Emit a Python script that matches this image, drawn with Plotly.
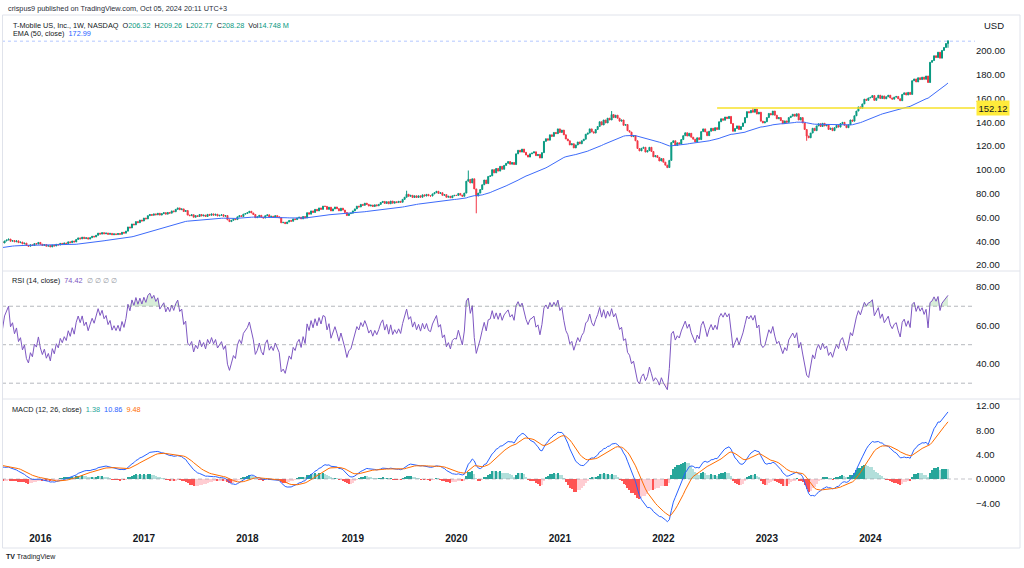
import numpy as np
import pandas as pd
import plotly.graph_objects as go

# ---------------------------------------------------------------------------
# DATA  (T-Mobile US, weekly closes in USD, one value per week starting Monday)
# ---------------------------------------------------------------------------
# weeks before the visible window: only used to warm up EMA / RSI / MACD
closes_pre = [30.5, 29.8, 29.5, 29.0, 29.2,
              29.0, 28.5, 28.8, 29.5,
              29.0, 28.0, 27.5, 27.0,
              26.5, 27.0, 27.5, 27.2, 27.0,
              29.5, 30.5, 31.0, 30.0,
              30.5, 32.0, 32.5, 32.0,
              31.5, 31.0, 31.8, 32.5, 32.0,
              33.0, 33.5, 34.5, 34.0,
              35.5, 36.5, 37.5, 38.0,
              38.5, 39.5, 39.0, 38.5, 38.8,
              39.5, 40.5, 41.0, 40.5,
              40.0, 40.5, 39.5, 38.5]
closes_2015 = [40.2, 41.0, 41.8, 40.0, 40.6, 39.5, 40.3, 38.8, 39.3,
               37.8, 38.4, 36.5, 35.8, 37.0, 36.4, 38.0, 37.6, 39.0]
closes_2016 = [37.5, 36.5, 37.2, 35.8, 36.4, 35.2, 36.8, 36.0, 37.4, 36.8, 38.2, 37.6, 38.5,
               38.0, 39.5, 38.8, 40.2, 39.4, 41.5, 42.8, 42.0, 43.4, 42.2, 42.9, 41.8, 43.0,
               44.2, 43.6, 45.0, 46.8, 46.0, 47.2, 46.2, 46.9, 45.8, 46.6, 45.4, 46.2, 45.6,
               46.5, 45.8, 47.5, 46.8, 48.5, 52.0, 51.2, 54.5, 53.8, 56.5, 55.6, 57.8, 57.0]
closes_2017 = [59.5, 58.8, 61.5, 62.5, 61.8, 63.0, 62.2, 63.5, 62.0, 63.2, 64.0, 62.8, 64.2,
               63.6, 65.5, 64.8, 66.8, 68.0, 66.5, 67.2, 65.0, 65.8, 62.0, 61.5, 62.3, 60.2,
               61.5, 60.8, 62.5, 61.2, 62.0, 60.8, 62.6, 61.8, 63.0, 61.9, 62.7, 61.2, 61.8,
               62.3, 61.0, 61.6, 58.0, 56.5, 57.6, 58.8, 58.2, 60.5, 61.5, 60.8, 62.8, 63.3]
closes_2018 = [64.0, 65.2, 63.8, 62.5, 59.8, 60.5, 61.8, 60.2, 59.5, 61.5, 62.2, 60.3, 61.0,
               60.2, 61.5, 60.6, 59.8, 55.5, 55.9, 54.8, 56.2, 57.5, 56.8, 58.8, 58.2, 59.6,
               60.2, 58.8, 60.8, 59.6, 64.0, 62.8, 65.5, 64.2, 66.8, 65.5, 68.0, 66.8, 69.5,
               69.3, 66.8, 68.6, 65.5, 67.2, 68.8, 67.4, 65.6, 67.8, 66.2, 64.2, 61.6, 63.2, 63.6]
closes_2019 = [65.5, 67.2, 69.5, 68.8, 71.0, 70.2, 72.0, 71.0, 69.6, 70.4, 69.2, 70.6, 69.8,
               71.0, 72.6, 73.5, 71.8, 73.2, 71.5, 73.8, 72.0, 73.2, 72.5, 73.6, 72.8, 75.2,
               77.0, 79.5, 77.8, 78.6, 76.8, 78.2, 76.8, 78.2, 77.0, 79.0, 78.0, 79.4, 78.2,
               78.0, 79.8, 80.8, 82.0, 80.2, 80.8, 78.6, 79.2, 77.0, 77.8, 76.6, 78.2, 78.6]
closes_2020 = [78.5, 80.2, 78.8, 77.8, 80.5, 90.5, 92.0, 89.0, 92.5, 84.0, 78.0, 80.5, 83.5,
               87.5, 91.5, 88.5, 94.5, 95.0, 100.2, 97.5, 101.2, 99.0, 103.0, 100.5, 103.8, 105.5,
               107.0, 104.8, 106.2, 104.5, 113.5, 116.5, 115.0, 117.5, 114.8, 112.5, 110.8, 113.5, 114.2,
               115.2, 112.0, 113.0, 110.0, 114.5, 124.0, 126.2, 125.0, 129.5, 128.2, 131.5, 130.5, 134.5]
closes_2021 = [131.5, 133.5, 129.5, 126.0, 124.5, 121.0, 122.0, 118.5, 121.0, 123.5, 122.0, 124.5, 125.8,
               130.0, 131.0, 134.5, 132.0, 131.0, 134.0, 136.5, 140.5, 137.8, 142.0, 139.5, 143.5, 142.0,
               146.5, 144.0, 146.0, 143.5, 141.0, 142.0, 137.5, 138.2, 133.0, 131.8, 128.0, 128.8, 124.5,
               118.0, 116.0, 118.2, 119.0, 115.0, 116.2, 119.0, 115.5, 111.0, 112.0, 110.5, 107.5, 109.5]
closes_2022 = [106.5, 104.0, 102.0, 108.0, 123.0, 124.5, 120.5, 122.8, 121.8, 125.5, 128.8, 131.2, 128.5,
               130.8, 127.5, 125.8, 123.5, 127.0, 125.5, 132.2, 134.5, 132.0, 128.8, 132.5, 135.0, 133.0,
               135.5, 134.0, 140.5, 143.0, 141.8, 144.5, 143.2, 145.0, 139.0, 132.5, 134.8, 137.0, 134.0,
               136.5, 139.5, 144.0, 149.0, 148.0, 150.0, 148.5, 151.2, 147.0, 148.5, 141.0, 139.5, 140.5]
closes_2023 = [144.0, 147.5, 146.2, 149.5, 146.0, 143.0, 144.0, 141.5, 139.0, 141.2, 140.0, 144.0, 145.2,
               146.8, 145.2, 147.2, 142.0, 144.0, 139.5, 134.0, 128.5, 127.0, 131.0, 135.0, 133.0, 137.0,
               138.8, 136.5, 139.2, 137.0, 138.0, 134.0, 135.2, 133.0, 135.5, 137.5, 136.0, 139.0, 140.0,
               137.5, 135.5, 138.0, 142.0, 141.0, 145.5, 149.5, 153.0, 151.8, 155.5, 159.5, 158.5, 160.5]
closes_2024 = [161.0, 162.5, 158.5, 160.5, 162.8, 160.0, 162.2, 159.8, 161.5, 162.8, 160.5, 159.5, 161.2,
               161.8, 159.8, 158.2, 163.5, 164.8, 163.0, 165.2, 163.5, 175.0, 176.5, 174.0, 177.5, 176.0,
               178.0, 176.2, 179.0, 173.5, 190.5, 192.0, 196.0, 194.5, 199.0, 194.0, 200.5, 203.0, 206.32, 208.28]

# first Monday of each block of weeks
segments = [("2014-09-01", closes_pre), ("2015-08-31", closes_2015),
            ("2016-01-04", closes_2016), ("2017-01-02", closes_2017),
            ("2018-01-01", closes_2018), ("2019-01-07", closes_2019),
            ("2020-01-06", closes_2020), ("2021-01-04", closes_2021),
            ("2022-01-03", closes_2022), ("2023-01-02", closes_2023),
            ("2024-01-01", closes_2024)]

# visible wicks that extend beyond the candle bodies
wick_high = {"2022-11-14": 152.12, "2020-02-17": 99.5, "2019-07-15": 82.5,
             "2024-09-30": 209.26, "2021-07-05": 149.5}
wick_low = {"2020-03-16": 63.5, "2024-09-30": 202.77, "2023-05-22": 124.5,
            "2022-01-17": 101.5}

resistance_level = 152.12
resistance_start = "2022-07-11"
last_close = 208.28

year_ticks = ["2016-01-04", "2017-01-02", "2018-01-01", "2019-01-07", "2020-01-06",
              "2021-01-04", "2022-01-03", "2023-01-02", "2024-01-01"]
year_labels = ["2016", "2017", "2018", "2019", "2020", "2021", "2022", "2023", "2024"]
price_ticks = [20, 40, 60, 80, 100, 120, 140, 160, 180, 200]
rsi_ticks = [40, 60, 80]
macd_ticks = [-4, 0, 4, 8, 12]

# ---------------------------------------------------------------------------
dates = []
vals = []
for start, seg in segments:
    dates.extend(pd.date_range(start, periods=len(seg), freq="7D"))
    vals.extend(seg)
close = pd.Series(vals, index=pd.DatetimeIndex(dates), dtype=float)
open_ = close.shift(1).fillna(close.iloc[0])
high = np.maximum(open_, close)
low = np.minimum(open_, close)
for d, v in wick_high.items():
    high[pd.Timestamp(d)] = max(high[pd.Timestamp(d)], v)
for d, v in wick_low.items():
    low[pd.Timestamp(d)] = min(low[pd.Timestamp(d)], v)

ema50 = close.ewm(span=50, adjust=False).mean()
delta = close.diff().fillna(0)
up = delta.clip(lower=0).ewm(alpha=1 / 14, adjust=False).mean()
dn = (-delta.clip(upper=0)).ewm(alpha=1 / 14, adjust=False).mean()
rsi = 100 - 100 / (1 + up / dn.replace(0, np.nan))
rsi = rsi.fillna(50)
macd = close.ewm(span=12, adjust=False).mean() - close.ewm(span=26, adjust=False).mean()
signal = macd.ewm(span=9, adjust=False).mean()
hist = macd - signal
prev = hist.shift(1).fillna(0)
hcol = []
for h, p in zip(hist, prev):
    if h >= 0:
        hcol.append("#26A69A" if h > p else "#B2DFDB")
    else:
        hcol.append("#FFCDD2" if h > p else "#FF5252")

UP, DOWN = "#089981", "#F23645"
FONT = "Liberation Sans, Arial, sans-serif"
TXT = "#131722"

X0, X1 = "2015-08-22", "2025-01-03"
ML, MR, MT, MB = 2, 49, 15, 43
PW, PH = 1024 - ML - MR, 568 - MT - MB


def px_x(p):
    return (p - ML) / PW


def px_y(q):
    return (568 - MB - q) / PH


fig = go.Figure()
fig.add_trace(go.Candlestick(
    x=close.index, open=open_, high=high, low=low, close=close,
    increasing=dict(line=dict(color=UP, width=1), fillcolor=UP),
    decreasing=dict(line=dict(color=DOWN, width=1), fillcolor=DOWN),
    whiskerwidth=0, xaxis="x", yaxis="y", hoverinfo="skip"))
fig.add_trace(go.Scatter(x=close.index, y=ema50, mode="lines",
                         line=dict(color="#3D6BFA", width=1), xaxis="x", yaxis="y"))

# RSI overbought / oversold fills
fig.add_trace(go.Scatter(x=close.index, y=[70] * len(close), mode="lines",
                         line=dict(width=0), xaxis="x", yaxis="y2"))
fig.add_trace(go.Scatter(x=close.index, y=np.maximum(rsi, 70), mode="lines",
                         line=dict(width=0), fill="tonexty",
                         fillcolor="rgba(76,175,80,0.22)", xaxis="x", yaxis="y2"))
fig.add_trace(go.Scatter(x=close.index, y=[30] * len(close), mode="lines",
                         line=dict(width=0), xaxis="x", yaxis="y2"))
fig.add_trace(go.Scatter(x=close.index, y=np.minimum(rsi, 30), mode="lines",
                         line=dict(width=0), fill="tonexty",
                         fillcolor="rgba(242,54,69,0.12)", xaxis="x", yaxis="y2"))
fig.add_trace(go.Scatter(x=close.index, y=rsi, mode="lines",
                         line=dict(color="#7E57C2", width=1), xaxis="x", yaxis="y2"))

fig.add_trace(go.Bar(x=close.index, y=hist, marker=dict(color=hcol, line=dict(width=0)),
                     width=0.55 * 7 * 86400000, xaxis="x", yaxis="y3"))
fig.add_trace(go.Scatter(x=close.index, y=macd, mode="lines",
                         line=dict(color="#2962FF", width=1), xaxis="x", yaxis="y3"))
fig.add_trace(go.Scatter(x=close.index, y=signal, mode="lines",
                         line=dict(color="#FF6D00", width=1), xaxis="x", yaxis="y3"))

ax_common = dict(showgrid=False, zeroline=False, showline=False, ticks="",
                 side="right", anchor="x", tickfont=dict(family=FONT, size=9.5, color=TXT))
fig.update_layout(
    width=1024, height=568,
    margin=dict(l=ML, r=MR, t=MT, b=MB),
    paper_bgcolor="white", plot_bgcolor="white", showlegend=False,
    hovermode=False, bargap=0,
    font=dict(family=FONT, size=9, color=TXT),
    xaxis=dict(type="date", range=[X0, X1], anchor="y3", showgrid=False, zeroline=False,
               showline=False, ticks="", rangeslider=dict(visible=False),
               tickvals=year_ticks, ticktext=year_labels, ticklabelstandoff=6,
               tickfont=dict(family=FONT, size=10, color=TXT, weight="bold")),
    yaxis=dict(domain=[px_y(270), 1], range=[15.8, 230.3],
               tickvals=price_ticks, ticktext=[f"{v:.2f}" for v in price_ticks], **ax_common),
    yaxis2=dict(domain=[px_y(398), px_y(272)], range=[22.3, 87.8],
                tickvals=rsi_ticks, ticktext=[f"{v:.2f}" for v in rsi_ticks], **ax_common),
    yaxis3=dict(domain=[0, px_y(400)], range=[-7.54, 12.95],
                tickvals=macd_ticks,
                ticktext=["\u22124.00", "0.0000", "4.00", "8.00", "12.00"], **ax_common),
)

shapes = []
# last price dotted line
shapes.append(dict(type="line", xref="x domain", yref="y", x0=0, x1=1,
                   y0=last_close, y1=last_close,
                   line=dict(color="rgba(41,98,255,0.35)", width=1, dash="dot")))
# resistance ray
shapes.append(dict(type="line", xref="x", yref="y", x0=resistance_start, x1=X1,
                   y0=resistance_level, y1=resistance_level,
                   line=dict(color="#F7E22A", width=1.5)))
for lvl in (70, 50, 30):
    shapes.append(dict(type="line", xref="x domain", yref="y2", x0=0, x1=1, y0=lvl, y1=lvl,
                       line=dict(color="rgba(120,123,134,0.55)", width=1, dash="4px,3px")))
shapes.append(dict(type="line", xref="x domain", yref="y3", x0=0, x1=1, y0=0, y1=0,
                   line=dict(color="rgba(120,123,134,0.45)", width=1, dash="4px,3px")))
# pane separators and frame
for q in (271, 399):
    shapes.append(dict(type="line", xref="paper", yref="paper", x0=px_x(2), x1=px_x(1020),
                       y0=px_y(q), y1=px_y(q), line=dict(color="#E0E3EB", width=1)))
shapes.append(dict(type="rect", xref="paper", yref="paper", x0=px_x(2.5), x1=px_x(1020),
                   y0=px_y(548), y1=px_y(15), line=dict(color="#E0E3EB", width=1)))
fig.update_layout(shapes=shapes)

NB = "\u00a0"


def span(t, c):
    return f"<span style='color:{c}'>{t}</span>"


G = "#089981"
LEG = 7.3
ann = []
ann.append(dict(text="crispus9 published on TradingView.com, Oct 05, 2024 20:11 UTC+3",
                x=px_x(6), y=px_y(8.5), font=dict(size=LEG, color="#2A2E39")))
ann.append(dict(text="T-Mobile US, Inc., 1W, NASDAQ" + NB * 2 + "O" + span("206.32", G) + NB * 2
                + "H" + span("209.26", G) + NB * 2 + "L" + span("202.77", G) + NB * 2
                + "C" + span("208.28", G) + NB * 2 + "Vol" + span("14.748" + NB + "M", G),
                x=px_x(11), y=px_y(25), font=dict(size=LEG, color=TXT)))
ann.append(dict(text="EMA (50, close)" + NB * 2 + span("172.99", "#2962FF"),
                x=px_x(11), y=px_y(34), font=dict(size=LEG, color=TXT)))
ann.append(dict(text="RSI (14, close)" + NB * 2 + span("74.42", "#7E57C2") + NB * 2
                + span("\u2205" + NB + "\u2205" + NB + "\u2205" + NB + "\u2205", "#9598A1"),
                x=px_x(10), y=px_y(281), font=dict(size=LEG, color=TXT)))
ann.append(dict(text="MACD (12, 26, close)" + NB * 2 + span("1.38", "#26A69A") + NB * 2
                + span("10.86", "#2962FF") + NB * 2 + span("9.48", "#FF6D00"),
                x=px_x(10), y=px_y(409), font=dict(size=LEG, color=TXT)))
ann.append(dict(text="USD", x=px_x(982), y=px_y(25), font=dict(size=9.5, color=TXT)))
ann.append(dict(text="<b>TV</b> TradingView", x=px_x(4), y=px_y(557),
                font=dict(size=7, color=TXT)))
for a in ann:
    a.update(xref="paper", yref="paper", xanchor="left", yanchor="middle",
             showarrow=False, align="left")
    a["font"]["family"] = FONT
ann.append(dict(text="152.12", xref="paper", yref="y", x=px_x(975.5), y=resistance_level,
                xanchor="left", yanchor="middle", showarrow=False,
                bgcolor="#FFEB3B", borderpad=1.5,
                font=dict(family=FONT, size=9.5, color=TXT)))
fig.update_layout(annotations=ann)

fig.write_html("out.html")
